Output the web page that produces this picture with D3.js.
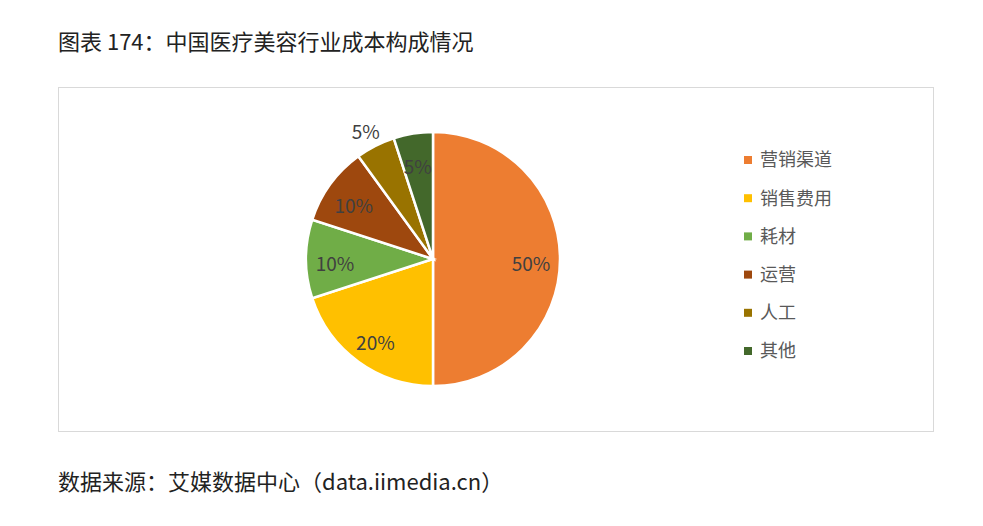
<!DOCTYPE html>
<html>
<head>
<meta charset="utf-8">
<script src="https://d3js.org/d3.v7.min.js"></script>
<style>
  body { margin: 0; background: #fff; }
  text { font-family: "Noto Sans CJK SC", "Noto Sans", sans-serif; }
</style>
</head>
<body>
<div id="chart"></div>
<script>
// data
var categories = ["营销渠道", "销售费用", "耗材", "运营", "人工", "其他"];
var shares = [50, 20, 10, 10, 5, 5];
var labels = ["50%", "20%", "10%", "10%", "5%", "5%"];
var colors = ["#ED7D31", "#FFC000", "#70AD47", "#9E480E", "#997300", "#43682B"];

var width = 983, height = 526;
var svg = d3.select("#chart").append("svg")
  .attr("width", width)
  .attr("height", height);

// title
svg.append("text")
  .attr("x", 58).attr("y", 50)
  .style("font-size", "22px").style("fill", "#222")
  .text("图表 174：中国医疗美容行业成本构成情况");

// frame
svg.append("rect")
  .attr("x", 58.5).attr("y", 87.5)
  .attr("width", 875).attr("height", 344)
  .style("fill", "none").style("stroke", "#d9d9d9");

// pie
var cx = 433, cy = 259, r = 127;
var pie = d3.pie().sort(null).value(function(d) { return d; });
var arcs = pie(shares);
var arc = d3.arc().innerRadius(0).outerRadius(r);
var labelArc = d3.arc().innerRadius(98).outerRadius(98);
var outerLabelArc = d3.arc().innerRadius(148).outerRadius(148);

var g = svg.append("g").attr("transform", "translate(" + cx + "," + cy + ")");

g.selectAll("path")
  .data(arcs)
  .enter().append("path")
  .attr("d", arc)
  .style("fill", function(d, i) { return colors[i]; })
  .style("stroke", "#fff")
  .style("stroke-width", 2.5);

// the olive slice label sits outside the pie
g.selectAll("text.lbl")
  .data(arcs)
  .enter().append("text")
  .attr("class", "lbl")
  .attr("transform", function(d, i) {
    var p = (i == 4 ? outerLabelArc : labelArc).centroid(d);
    return "translate(" + p[0] + "," + p[1] + ")";
  })
  .attr("text-anchor", "middle")
  .attr("dy", "0.62em")
  .style("font-size", "19px")
  .style("fill", "#404040")
  .text(function(d, i) { return labels[i]; });

// legend
var legend = svg.append("g").attr("transform", "translate(744,160)");
var rows = legend.selectAll("g")
  .data(categories)
  .enter().append("g")
  .attr("transform", function(d, i) { return "translate(0," + (i * 38.2) + ")"; });
rows.append("rect")
  .attr("x", 0).attr("y", -4)
  .attr("width", 8).attr("height", 8)
  .style("fill", function(d, i) { return colors[i]; });
rows.append("text")
  .attr("x", 16).attr("dy", "0.35em")
  .style("font-size", "18px")
  .style("fill", "#595959")
  .text(function(d) { return d; });

// source
svg.append("text")
  .attr("x", 58).attr("y", 490)
  .style("font-size", "22px").style("fill", "#222")
  .text("数据来源：艾媒数据中心（data.iimedia.cn）");
</script>
</body>
</html>
